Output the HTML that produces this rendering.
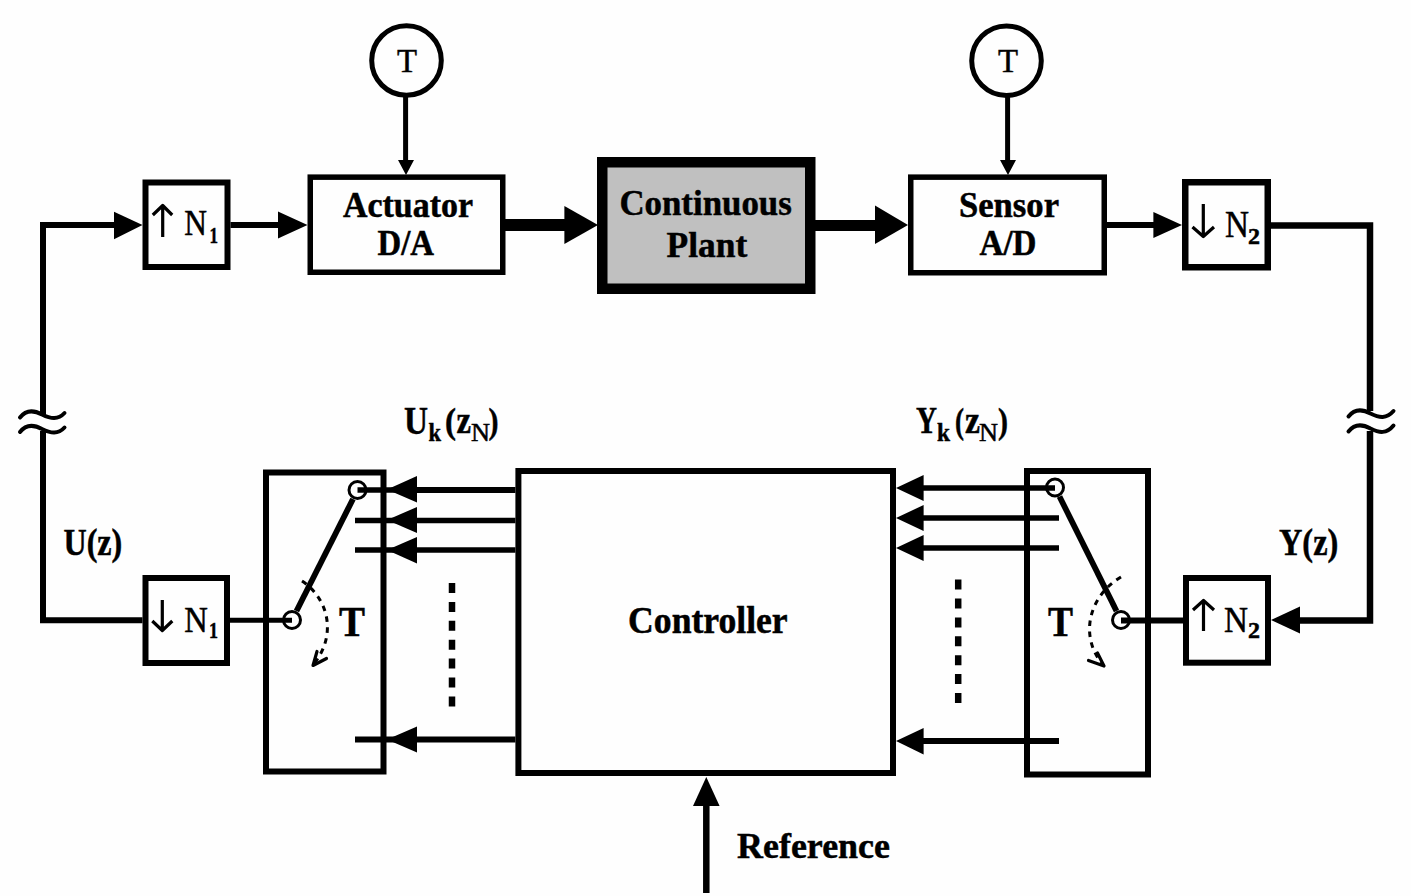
<!DOCTYPE html>
<html><head><meta charset="utf-8">
<style>
html,body{margin:0;padding:0;background:#fff;}
body{width:1411px;height:896px;overflow:hidden;}
svg{display:block;}
text{font-family:"Liberation Serif",serif;fill:#000;stroke:#000;stroke-width:0.5;}
.b{font-weight:bold;}
</style></head>
<body>
<svg width="1411" height="896" viewBox="0 0 1411 896">
<rect x="0" y="0" width="1411" height="896" fill="#fefefe"/>
<g fill="none" stroke="#000" stroke-linecap="butt" stroke-linejoin="miter">
  <!-- boxes -->
  <rect x="145.5" y="182.5" width="82" height="84.5" stroke-width="6"/>
  <rect x="310.25" y="177.15" width="192.5" height="95.1" stroke-width="5.5"/>
  <rect x="602.25" y="162.25" width="208" height="126.5" stroke-width="10.5" fill="#c0c0c0"/>
  <rect x="910.75" y="177.15" width="193.5" height="95.6" stroke-width="5.5"/>
  <rect x="1185.25" y="182.25" width="82.5" height="85" stroke-width="6.5"/>
  <rect x="145.5" y="578" width="81.5" height="85" stroke-width="6"/>
  <rect x="1186" y="578" width="82" height="84.7" stroke-width="6"/>
  <rect x="266" y="472.5" width="117.5" height="299" stroke-width="6"/>
  <rect x="518.4" y="471" width="374.6" height="302" stroke-width="6"/>
  <rect x="1027" y="471" width="121" height="303.5" stroke-width="6"/>
  <!-- T circles -->
  <circle cx="406.5" cy="60.5" r="34.8" stroke-width="5"/>
  <circle cx="1006.5" cy="60.7" r="34.8" stroke-width="5"/>
  <line x1="405.6" y1="97" x2="405.6" y2="162" stroke-width="5"/>
  <line x1="1007.6" y1="97" x2="1007.6" y2="162" stroke-width="5"/>
  <!-- feedback loops -->
  <path d="M142.5,620.3 H43 V431" stroke-width="6"/>
  <path d="M43,416 V225 H116" stroke-width="6"/>
  <line x1="230.5" y1="225" x2="280" y2="225" stroke-width="6"/>
  <line x1="505" y1="225" x2="566" y2="225" stroke-width="12"/>
  <line x1="815" y1="225.5" x2="877" y2="225.5" stroke-width="11"/>
  <line x1="1107" y1="225" x2="1155" y2="225" stroke-width="6"/>
  <path d="M1271,225.5 H1370 V411" stroke-width="6.5"/>
  <path d="M1370,431 V620.5 H1298" stroke-width="6.5"/>
  <line x1="230" y1="620.3" x2="292" y2="620.3" stroke-width="5"/>
  <line x1="1121" y1="620.5" x2="1183" y2="620.5" stroke-width="6"/>
  <!-- break waves -->
  <path stroke-linecap="round" d="M20,417.5 C25,411 32,409 42,414.5 C51,419 58,420 64.5,413" stroke-width="4"/>
  <path stroke-linecap="round" d="M20,432 C25,425.5 32,423.5 42,429 C51,433.5 58,434.5 64.5,427.5" stroke-width="4"/>
  <path stroke-linecap="round" d="M1348.5,416.5 C1353.5,410 1360.5,408 1370.5,413.5 C1379.5,418 1386.5,419 1393.5,411" stroke-width="4"/>
  <path stroke-linecap="round" d="M1348.5,431.5 C1353.5,425 1360.5,423 1370.5,428.5 C1379.5,433 1386.5,434 1393.5,425.5" stroke-width="4"/>
  <!-- left switch lines -->
  <line x1="357.5" y1="490" x2="419" y2="490" stroke-width="5.5"/>
  <line x1="515.4" y1="490" x2="415" y2="490" stroke-width="6"/>
  <line x1="355" y1="520.5" x2="515.4" y2="520.5" stroke-width="5.5"/>
  <line x1="355" y1="550" x2="515.4" y2="550" stroke-width="5.5"/>
  <line x1="355" y1="739.5" x2="515.4" y2="739.5" stroke-width="6"/>
  <circle cx="357.5" cy="490" r="8.5" stroke-width="3"/>
  <circle cx="292" cy="620" r="8.5" stroke-width="3"/>
  <line x1="296.5" y1="611" x2="353" y2="499" stroke-width="5.8"/>
  <line x1="452" y1="583" x2="452" y2="708" stroke-width="6.5" stroke-dasharray="10 8.9"/>
  <path d="M302,581 C328,598 338,635 313,665" stroke-width="3" stroke-dasharray="5.5 5.5"/>
  <path d="M317,651.5 L313,665.5 L326.5,658.5" stroke-width="3.2" stroke-linejoin="round" stroke-linecap="round"/>
  <!-- right switch lines -->
  <line x1="922" y1="488" x2="1055" y2="488" stroke-width="5.5"/>
  <line x1="922" y1="518" x2="1059" y2="518" stroke-width="5.5"/>
  <line x1="922" y1="548" x2="1059" y2="548" stroke-width="5.5"/>
  <line x1="922" y1="741" x2="1059" y2="741" stroke-width="6"/>
  <circle cx="1055" cy="487.5" r="8.5" stroke-width="3"/>
  <circle cx="1121" cy="620" r="8.5" stroke-width="3"/>
  <line x1="1059.5" y1="496.5" x2="1116.5" y2="611" stroke-width="5.8"/>
  <line x1="958.2" y1="579.6" x2="958.2" y2="704" stroke-width="6.5" stroke-dasharray="10 8.9"/>
  <path d="M1121,577 C1090,595 1078,635 1103,665" stroke-width="3" stroke-dasharray="5.5 5.5"/>
  <path d="M1088.5,660.5 L1104,666 L1097.5,653" stroke-width="3.2" stroke-linejoin="round" stroke-linecap="round"/>
  <!-- reference -->
  <line x1="706.3" y1="893" x2="706.3" y2="804" stroke-width="6.5"/>
  <!-- small arrows in N boxes -->
  <path d="M162.7,237 V206 M152.8,215 L162.7,205.5 L172.2,215" stroke-width="3.2" stroke-linejoin="round"/>
  <path d="M1203.3,204 V236 M1192.5,227 L1203.3,236.5 L1214,227" stroke-width="3.2" stroke-linejoin="round"/>
  <path d="M162.3,600 V630 M152.3,621 L162.3,630.5 L172.3,621" stroke-width="3.2" stroke-linejoin="round"/>
  <path d="M1203.5,631 V601 M1193,610 L1203.5,600.5 L1214,610" stroke-width="3.2" stroke-linejoin="round"/>
</g>
<g fill="#000" stroke="none">
  <!-- arrowheads -->
  <polygon points="398,160 414,160 406,175"/>
  <polygon points="1000,160 1016,160 1008,175"/>
  <polygon points="114,211.7 142.5,225 114,239.2"/>
  <polygon points="278,211.5 307.5,225 278,238.5"/>
  <polygon points="564.4,206 598,225 564.4,244"/>
  <polygon points="875,205.6 908,225 875,244"/>
  <polygon points="1153.4,212 1182,225 1153.4,238"/>
  <polygon points="1300,606.4 1271,620 1300,633.5"/>
  <polygon points="417,476 387,489.5 417,502.5"/>
  <polygon points="417,507 387,520 417,533"/>
  <polygon points="417,537 387,550 417,563.5"/>
  <polygon points="417,726.5 387,739.5 417,752.5"/>
  <polygon points="923.6,475 896,488 923.6,501"/>
  <polygon points="923.6,505 896,518 923.6,531"/>
  <polygon points="923.6,535 896,548 923.6,561"/>
  <polygon points="923.6,728 896,741 923.6,754.4"/>
  <polygon points="693,806 719.6,806 706.3,777"/>
</g>
<!-- text -->
<text x="397" y="71.6" font-size="34.5" textLength="20" lengthAdjust="spacingAndGlyphs">T</text>
<text x="998" y="71.6" font-size="34.5" textLength="20" lengthAdjust="spacingAndGlyphs">T</text>
<text class="b" x="343" y="217" font-size="35.1" textLength="130" lengthAdjust="spacingAndGlyphs">Actuator</text>
<text class="b" x="377.5" y="255" font-size="35.1" textLength="56.5" lengthAdjust="spacingAndGlyphs">D/A</text>
<text class="b" x="619.4" y="215.3" font-size="36.5" textLength="172.4" lengthAdjust="spacingAndGlyphs">Continuous</text>
<text class="b" x="666.6" y="257" font-size="36.5" textLength="80.8" lengthAdjust="spacingAndGlyphs">Plant</text>
<text class="b" x="959" y="217" font-size="35.1" textLength="100" lengthAdjust="spacingAndGlyphs">Sensor</text>
<text class="b" x="979.5" y="255" font-size="35.1" textLength="57" lengthAdjust="spacingAndGlyphs">A/D</text>
<text x="184.3" y="235.4" font-size="35.7" textLength="22.7" lengthAdjust="spacingAndGlyphs">N</text>
<text class="b" x="209.5" y="242.8" font-size="23" textLength="8.5" lengthAdjust="spacingAndGlyphs">1</text>
<text x="1225" y="237" font-size="37" textLength="24" lengthAdjust="spacingAndGlyphs">N</text>
<text class="b" x="1248" y="244" font-size="23" textLength="12" lengthAdjust="spacingAndGlyphs">2</text>
<text x="184.3" y="632" font-size="35.7" textLength="23.6" lengthAdjust="spacingAndGlyphs">N</text>
<text class="b" x="209" y="638" font-size="23" textLength="9" lengthAdjust="spacingAndGlyphs">1</text>
<text x="1224" y="632" font-size="36.5" textLength="24" lengthAdjust="spacingAndGlyphs">N</text>
<text class="b" x="1248" y="638" font-size="23" textLength="12" lengthAdjust="spacingAndGlyphs">2</text>
<text class="b" x="63.5" y="555" font-size="38" textLength="58.8" lengthAdjust="spacingAndGlyphs">U(z)</text>
<text class="b" x="1279" y="555" font-size="38" textLength="59.3" lengthAdjust="spacingAndGlyphs">Y(z)</text>
<text class="b" x="339" y="636" font-size="42" textLength="26" lengthAdjust="spacingAndGlyphs">T</text>
<text class="b" x="1048" y="636" font-size="42" textLength="25" lengthAdjust="spacingAndGlyphs">T</text>
<text class="b" x="628.1" y="633.1" font-size="37.5" textLength="159.6" lengthAdjust="spacingAndGlyphs">Controller</text>
<text class="b" x="737" y="858" font-size="36.6" textLength="153" lengthAdjust="spacingAndGlyphs">Reference</text>
<!-- Uk(zN) -->
<text class="b" x="404" y="433.5" font-size="39.4" textLength="24" lengthAdjust="spacingAndGlyphs">U</text>
<text class="b" x="428.5" y="441" font-size="24.6" textLength="12.5" lengthAdjust="spacingAndGlyphs">k</text>
<text class="b" x="445" y="433" font-size="35.5" textLength="11" lengthAdjust="spacingAndGlyphs">(</text>
<text class="b" x="456.5" y="433" font-size="37" textLength="14.5" lengthAdjust="spacingAndGlyphs">z</text>
<text x="471" y="441" font-size="26" textLength="19" lengthAdjust="spacingAndGlyphs">N</text>
<text class="b" x="488.5" y="433" font-size="35.5" textLength="10" lengthAdjust="spacingAndGlyphs">)</text>
<!-- Yk(zN) -->
<text class="b" x="916" y="433" font-size="37" textLength="21" lengthAdjust="spacingAndGlyphs">Y</text>
<text class="b" x="937" y="441" font-size="24.6" textLength="13" lengthAdjust="spacingAndGlyphs">k</text>
<text class="b" x="955" y="433" font-size="35.5" textLength="9" lengthAdjust="spacingAndGlyphs">(</text>
<text class="b" x="965" y="433" font-size="37" textLength="15" lengthAdjust="spacingAndGlyphs">z</text>
<text x="979" y="441" font-size="26" textLength="19" lengthAdjust="spacingAndGlyphs">N</text>
<text class="b" x="998" y="433" font-size="35.5" textLength="10" lengthAdjust="spacingAndGlyphs">)</text>
</svg>
</body></html>
